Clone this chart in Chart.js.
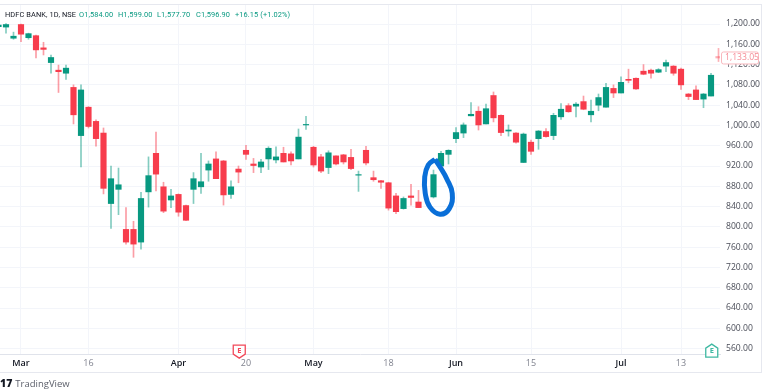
<!DOCTYPE html>
<html>
<head>
<meta charset="utf-8">
<title>HDFC Bank 1D</title>
<script src="https://cdn.jsdelivr.net/npm/chart.js@4"></script>
<style>
    html, body { margin: 0; padding: 0; background: #fff; overflow: hidden; }
    #wrap { position: relative; width: 768px; height: 392px; filter: blur(0.45px); font-family: "Open Sans", sans-serif; }
    canvas { position: absolute; left: 0; top: 0; }
    #frame { position: absolute; left: -2px; top: 4px; width: 762px; height: 367px; border: 1px solid #e6e8ef; pointer-events: none; }
    .hd { position: absolute; top: 9px; font-family: Roboto, sans-serif; font-size: 7.4px; letter-spacing: 0.1px; line-height: 11px; white-space: nowrap; color: #089981; }
    #brand { position: absolute; left: 0; top: 377px; font-size: 9.5px; line-height: 13px; color: #5d606b; white-space: nowrap; }
    #brand b { color: #131722; font-weight: 800; font-size: 10.5px; margin-right: 3px; }
</style>
</head>
<body>
<div id="wrap">
    <canvas id="chart" width="768" height="392"></canvas>
    <div id="frame"></div>
    <span class="hd" style="left:5px;color:#131722">HDFC BANK, 1D, NSE</span>
    <span class="hd" style="left:79px">O1,584.00</span>
    <span class="hd" style="left:118px">H1,599.00</span>
    <span class="hd" style="left:157px">L1,577.70</span>
    <span class="hd" style="left:196px">C1,596.90</span>
    <span class="hd" style="left:235px">+16.15 (+1.02%)</span>
    <div id="brand"><b>17</b>TradingView</div>
</div>
<script>
// ── Data ──
const opens = [1195,1194,1172,1199,1173,1177,1153,1124,1109,1103,1075,980,1036,1008,985,846,874,795,795,770,869,945,879,853,864,842,874,879,912,934,930,864,914,951,924,918,934,932,945,944,934,1001,957,938,917,940,942,937,902,951,897,891,887,861,836,861,849,null,859,920,943,974,985,1019,1028,1003,1059,1020,989,985,927,967,974,988,980,1017,1039,1038,1047,1021,1040,1036,1073,1064,1091,1093,1107,1109,1105,1117,1117,1111,1062,1070,1052,1058,1136];
const highs = [1200,1201,1184,1200,1182,1178,1164,1139,1119,1119,1080,1080,1037,1011,995,920,916,838,811,868,938,987,888,874,865,843,907,945,930,948,931,891,920,961,935,933,958,958,957,948,993,1018,959,943,950,940,943,953,910,959,910,892,888,866,859,884,872,null,912,949,952,996,1005,1045,1037,1042,1066,1021,1001,986,985,971,990,994,1024,1043,1043,1045,1058,1050,1062,1083,1080,1096,1111,1094,1120,1111,1112,1129,1118,1113,1063,1078,1063,1103,1152];
const lows = [1192,1182,1170,1165,1170,1133,1139,1103,1065,1091,1003,918,995,959,865,797,824,766,740,756,839,871,828,838,821,812,846,866,890,895,843,856,887,933,907,907,913,926,928,922,934,992,918,907,905,922,924,913,870,922,890,876,833,826,835,843,838,null,857,918,924,966,976,1019,991,1003,1007,980,979,965,927,943,953,977,972,1012,1026,1017,1031,1007,1029,1036,1055,1064,1084,1071,1100,1093,1104,1106,1099,1071,1051,1051,1035,1058,1126];
const closes = [1198,1199,1176,1180,1181,1149,1150,1134,1106,1113,1021,1070,998,974,876,895,883,770,766,856,901,904,831,861,829,813,895,889,924,895,863,879,908,943,921,928,955,938,928,930,977,1002,922,910,946,924,928,915,903,926,893,888,837,830,856,858,838,null,903,945,951,986,1001,1022,1001,1033,1015,986,991,967,983,949,989,978,1020,1032,1027,1042,1032,1028,1055,1075,1064,1085,1089,1072,1101,1103,1110,1124,1103,1080,1057,1051,1062,1099,1133];

const tickIndex = [3, 12, 24, 33, 42, 52, 61, 71, 83, 91];
const tickLabels = ['Mar', '16', 'Apr', '20', 'May', '18', 'Jun', '15', 'Jul', '13'];
const priceTicks = [560, 600, 640, 680, 720, 760, 800, 840, 880, 920, 960, 1000, 1040, 1080, 1120, 1160, 1200];

const lastPrice = 1133.05;
const earnings = [{ index: 32.1, color: '#f2495a', up: false }, { index: 95.1, color: '#3fb8a2', up: true }];

// hand drawn loop round the highlighted candle, in bar index / price
const loopIndex = [58.2, 57.3, 56.83, 56.9, 57.53, 58.87, 60.1, 60.5, 59.76, 58.87, 58.2];
const loopPrice = [933, 922, 899, 866, 839, 825, 836, 866, 895, 918, 933];

const UP = '#089981';
const DOWN = '#f73c4c';
const PAGE_LAST = opens.length - 1;

function candleColor(i, body) {
    const up = closes[i] >= opens[i];
    if (i === PAGE_LAST) return 'rgba(247,60,76,0.4)';
    if (body) return up ? UP : DOWN;
    return up ? 'rgba(8,153,129,0.5)' : 'rgba(247,60,76,0.5)';
}

const shown = opens.map((o, i) => i).filter(i => opens[i] !== null);

// scales add room for their first and last label, the plot here runs edge to edge
function dropLabelRoom(s) {
    s.paddingLeft = s.paddingRight = s.paddingTop = s.paddingBottom = 0;
}

// ── Price label and earnings flags ──
const overlays = {
    id: 'overlays',
    afterDatasetsDraw(chart) {
        const { ctx, scales: { x, y } } = chart;
        ctx.save();
        earnings.forEach(e => {
            const px = x.getPixelForValue(e.index);
            const py = y.getPixelForValue(553) - 1;
            ctx.beginPath();
            if (e.up) {
                ctx.moveTo(px - 6, py + 6); ctx.lineTo(px + 6, py + 6);
                ctx.lineTo(px + 6, py - 3); ctx.lineTo(px, py - 7); ctx.lineTo(px - 6, py - 3);
            } else {
                ctx.moveTo(px - 6, py - 6); ctx.lineTo(px + 6, py - 6);
                ctx.lineTo(px + 6, py + 3); ctx.lineTo(px, py + 7); ctx.lineTo(px - 6, py + 3);
            }
            ctx.closePath();
            ctx.fillStyle = '#fff';
            ctx.fill();
            ctx.strokeStyle = e.color;
            ctx.lineWidth = 1.3;
            ctx.stroke();
            ctx.fillStyle = e.color;
            ctx.font = '700 7.5px "Open Sans"';
            ctx.textAlign = 'center';
            ctx.textBaseline = 'middle';
            ctx.fillText('E', px, py);
        });

        const ly = y.getPixelForValue(lastPrice);
        ctx.fillStyle = '#fff';
        ctx.strokeStyle = '#f9b9bf';
        ctx.lineWidth = 1;
        ctx.beginPath();
        ctx.roundRect(721.5, ly - 6, 37, 12, 2);
        ctx.fill();
        ctx.stroke();
        ctx.fillStyle = '#f58a95';
        ctx.font = '8.6px "Open Sans"';
        ctx.textAlign = 'left';
        ctx.textBaseline = 'middle';
        ctx.fillText(lastPrice.toLocaleString('en-US', { minimumFractionDigits: 2 }), 725, ly);
        ctx.restore();
    }
};

new Chart(document.getElementById('chart'), {
    type: 'bar',
    data: {
        datasets: [
            {
                type: 'line',
                data: loopIndex.map((v, i) => ({ x: v, y: loopPrice[i] })),
                borderColor: '#0a6fd8',
                borderWidth: 5,
                pointRadius: 0,
                tension: 0.45,
                order: 0,
            },
            {
                data: shown.map(i => ({ x: i, y: [opens[i], closes[i]] })),
                backgroundColor: c => candleColor(c.raw.x, true),
                barThickness: 5.5,
                grouped: false,
                order: 1,
            },
            {
                data: shown.map(i => ({ x: i, y: [lows[i], highs[i]] })),
                backgroundColor: c => candleColor(c.raw.x, false),
                barThickness: 1,
                grouped: false,
                order: 2,
            },
        ],
    },
    options: {
        responsive: false,
        animation: false,
        events: [],
        layout: { padding: { top: 4, right: 8, bottom: 20, left: 0 } },
        plugins: { legend: { display: false }, tooltip: { enabled: false } },
        scales: {
            x: {
                type: 'linear',
                offset: false,
                min: 0.2,
                max: 96.2,
                afterBuildTicks: s => { s.ticks = tickIndex.map(v => ({ value: v })); },
                afterFit: s => { s.height = 18; dropLabelRoom(s); },
                grid: { offset: false, color: '#f3f5fa', drawTicks: false },
                border: { color: '#e0e3eb' },
                ticks: {
                    autoSkip: false,
                    maxRotation: 0,
                    padding: 4,
                    callback: v => tickLabels[tickIndex.indexOf(v)],
                    color: c => /\d/.test(tickLabels[c.index]) ? '#80838f' : '#131722',
                    font: c => ({ family: '"Open Sans"', size: 9, weight: /\d/.test(tickLabels[c.index]) ? 400 : 600 }),
                },
            },
            y: {
                position: 'right',
                min: 549.3,
                max: 1239.5,
                afterBuildTicks: s => { s.ticks = priceTicks.map(v => ({ value: v })); },
                afterFit: s => { s.width = 40; dropLabelRoom(s); },
                grid: { color: '#f3f5fa', drawTicks: false },
                border: { display: false },
                ticks: {
                    autoSkip: false,
                    padding: 6,
                    color: '#4a4d58',
                    font: { family: '"Open Sans"', size: 8.6 },
                    callback: v => v.toLocaleString('en-US', { minimumFractionDigits: 2 }),
                },
            },
        },
    },
    plugins: [overlays],
});
</script>
</body>
</html>
